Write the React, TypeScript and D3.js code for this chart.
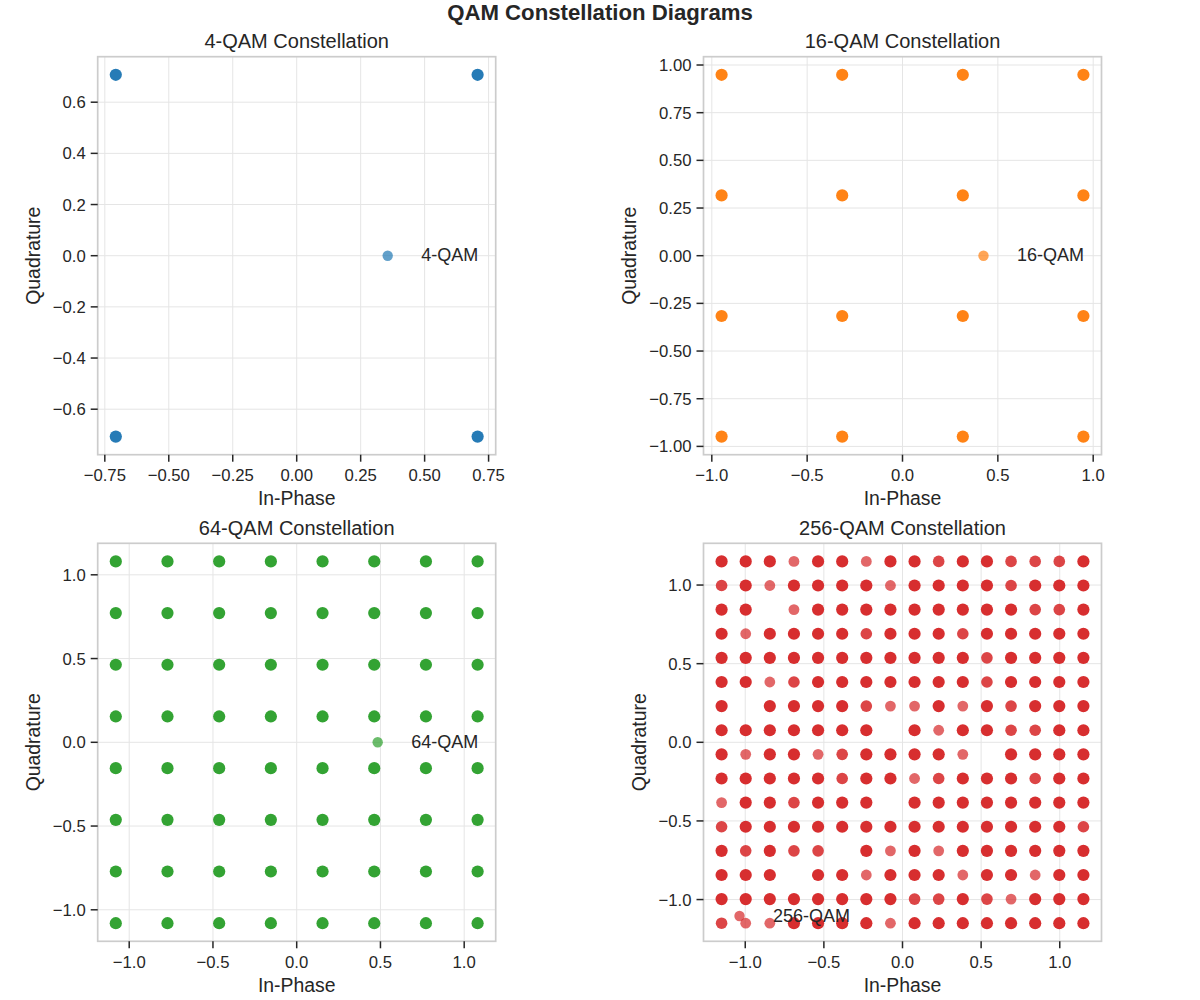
import React from 'react';
import * as d3 from 'd3';

// ---------- data ----------
const SUPTITLE = 'QAM Constellation Diagrams';
const NAMES = ['4-QAM', '16-QAM', '64-QAM', '256-QAM'];

const LEVELS_4 = [-0.7071, 0.7071];
const LEVELS_16 = [-0.9487, -0.3162, 0.3162, 0.9487];
const LEVELS_64 = [-1.0801, -0.7715, -0.4629, -0.1543, 0.1543, 0.4629, 0.7715, 1.0801];
const LEVELS_256 = [
  -1.1504, -0.997, -0.8437, -0.6903, -0.5369, -0.3835, -0.2301, -0.0767,
  0.0767, 0.2301, 0.3835, 0.5369, 0.6903, 0.8437, 0.997, 1.1504,
];

// hit density per constellation point, rows top->bottom, cols left->right
// 0 = no sample, 1 = single sample, 2 = few samples, 3 = many samples
const HITS_4 = ['33', '33'];
const HITS_16 = ['3333', '3333', '3333', '3333'];
const HITS_64 = ['33333333', '33333333', '33333333', '33333333', '33333333', '33333333', '33333333', '33333333'];
const HITS_256 = [
  '3331331332332223',
  '2313333133332333',
  '3301333333333223',
  '3133332333233333',
  '3333333333323333',
  '3312333333323333',
  '3033332113132333',
  '3333333031332233',
  '3133123333103333',
  '3333323312333233',
  '1332333033333333',
  '2333333333333332',
  '3232203131333333',
  '3330331333133133',
  '3333333322321333',
  '2113333133333333',
];

const X_TICKS_4 = [-0.75, -0.5, -0.25, 0, 0.25, 0.5, 0.75];
const Y_TICKS_4 = [-0.6, -0.4, -0.2, 0, 0.2, 0.4, 0.6];
const X_TICKS_16 = [-1, -0.5, 0, 0.5, 1];
const Y_TICKS_16 = [-1, -0.75, -0.5, -0.25, 0, 0.25, 0.5, 0.75, 1];
const X_TICKS_64 = [-1, -0.5, 0, 0.5, 1];
const Y_TICKS_64 = [-1, -0.5, 0, 0.5, 1];
const X_TICKS_256 = [-1, -0.5, 0, 0.5, 1];
const Y_TICKS_256 = [-1, -0.5, 0, 0.5, 1];

// ---------- styles ----------
const COLORS = ['#1f77b4', '#ff7f0e', '#2ca02c', '#d62728'];
const FONT = "'Liberation Sans', Arial, sans-serif";
const TEXT = '#262626';
const SIZE = 398;
const COL_X = [97.7, 703.5];
const ROW_Y = [56.7, 543.3];

const OPACITY: Record<string, number> = { '1': 0.7, '2': 0.86, '3': 0.97 };
const RADIUS: Record<string, number> = { '1': 5.4, '2': 5.8, '3': 6.1 };

let canvasCtx: CanvasRenderingContext2D | null = null;
function textWidth(s: string, size: number) {
  if (!canvasCtx) canvasCtx = document.createElement('canvas').getContext('2d');
  if (!canvasCtx) return s.length * size * 0.55;
  canvasCtx.font = `${size}px ${FONT}`;
  return canvasCtx.measureText(s).width;
}

const fmt = (spec: string) => (v: number) => d3.format(spec)(v).replace('-', '\u2212');

type PanelProps = {
  idx: number;
  levels: number[];
  hits: string[];
  xTicks: number[];
  yTicks: number[];
  xFmt: string;
  yFmt: string;
  legendLoc: 'center right' | 'lower left';
  ylabelOffset: number;
};

function Panel({ idx, levels, hits, xTicks, yTicks, xFmt, yFmt, legendLoc, ylabelOffset }: PanelProps) {
  const x0 = COL_X[idx % 2];
  const y0 = ROW_Y[Math.floor(idx / 2)];
  const color = COLORS[idx];
  const name = NAMES[idx];
  const [lo, hi] = d3.extent(levels) as [number, number];
  const pad = (hi - lo) * 0.05;
  const x = d3.scaleLinear().domain([lo - pad, hi + pad]).range([x0, x0 + SIZE]);
  const y = d3.scaleLinear().domain([lo - pad, hi + pad]).range([y0 + SIZE, y0]);
  const n = levels.length;

  const pts: { i: number; q: number; h: string }[] = [];
  hits.forEach((row, r) => {
    row.split('').forEach((h, c) => {
      if (h !== '0') pts.push({ i: levels[c], q: levels[n - 1 - r], h });
    });
  });

  const fx = fmt(xFmt);
  const fy = fmt(yFmt);

  // legend
  const lw = textWidth(name, 18);
  let textX: number, markerY: number;
  if (legendLoc === 'center right') {
    textX = x0 + SIZE - 17.5 - lw;
    markerY = y0 + SIZE / 2;
  } else {
    textX = x0 + 69.5;
    markerY = y0 + SIZE - 25.3;
  }
  const markerX = textX - 33.5;

  const clipId = `clip${idx}`;
  return (
    <g>
      <defs>
        <clipPath id={clipId}>
          <rect x={x0} y={y0} width={SIZE} height={SIZE} />
        </clipPath>
      </defs>
      {/* grid */}
      <g stroke="#e5e5e5" strokeWidth={1}>
        {xTicks.map((t) => (
          <line key={'gx' + t} x1={x(t)} x2={x(t)} y1={y0} y2={y0 + SIZE} />
        ))}
        {yTicks.map((t) => (
          <line key={'gy' + t} x1={x0} x2={x0 + SIZE} y1={y(t)} y2={y(t)} />
        ))}
      </g>
      {/* points */}
      <g clipPath={`url(#${clipId})`}>
        {pts.map((p, k) => (
          <circle key={k} cx={x(p.i)} cy={y(p.q)} r={RADIUS[p.h]} fill={color} fillOpacity={OPACITY[p.h]} />
        ))}
      </g>
      {/* spines */}
      <rect x={x0} y={y0} width={SIZE} height={SIZE} fill="none" stroke="#cccccc" strokeWidth={1.7} />
      {/* x ticks */}
      <g>
        {xTicks.map((t) => (
          <g key={'tx' + t}>
            <line x1={x(t)} x2={x(t)} y1={y0 + SIZE} y2={y0 + SIZE + 7} stroke={TEXT} strokeWidth={1.5} />
            <text x={x(t)} y={y0 + SIZE + 26.5} textAnchor="middle" fontSize={16.7} fill={TEXT} fontFamily={FONT}>
              {fx(t)}
            </text>
          </g>
        ))}
      </g>
      {/* y ticks */}
      <g>
        {yTicks.map((t) => (
          <g key={'ty' + t}>
            <line x1={x0 - 7} x2={x0} y1={y(t)} y2={y(t)} stroke={TEXT} strokeWidth={1.5} />
            <text x={x0 - 12} y={y(t) + 6} textAnchor="end" fontSize={16.7} fill={TEXT} fontFamily={FONT}>
              {fy(t)}
            </text>
          </g>
        ))}
      </g>
      {/* labels */}
      <text x={x0 + SIZE / 2} y={y0 + SIZE + 50.5} textAnchor="middle" fontSize={19.4} fill={TEXT} fontFamily={FONT}>
        In-Phase
      </text>
      <text
        transform={`translate(${x0 - ylabelOffset},${y0 + SIZE / 2}) rotate(-90)`}
        textAnchor="middle"
        fontSize={19.4}
        fill={TEXT}
        fontFamily={FONT}
      >
        Quadrature
      </text>
      <text x={x0 + SIZE / 2} y={y0 - 8.3} textAnchor="middle" fontSize={20} fill={TEXT} fontFamily={FONT}>
        {name} Constellation
      </text>
      {/* legend */}
      <circle cx={markerX} cy={markerY} r={5.2} fill={color} fillOpacity={0.7} />
      <text x={textX} y={markerY + 5.5} fontSize={18} fill={TEXT} fontFamily={FONT}>
        {name}
      </text>
    </g>
  );
}

export default function App() {
  return (
    <svg
      width={1200}
      height={1000}
      style={{ position: 'absolute', left: 0, top: 0, display: 'block', background: '#fff' }}
      fontFamily={FONT}
    >
      <rect x={0} y={0} width={1200} height={1000} fill="#fff" />
      <text x={600} y={20} textAnchor="middle" fontSize={22.2} fontWeight="bold" fill={TEXT} fontFamily={FONT}>
        {SUPTITLE}
      </text>
      <Panel idx={0} levels={LEVELS_4} hits={HITS_4} xTicks={X_TICKS_4} yTicks={Y_TICKS_4} xFmt=".2f" yFmt=".1f" legendLoc="center right" ylabelOffset={57.7} />
      <Panel idx={1} levels={LEVELS_16} hits={HITS_16} xTicks={X_TICKS_16} yTicks={Y_TICKS_16} xFmt=".1f" yFmt=".2f" legendLoc="center right" ylabelOffset={67.5} />
      <Panel idx={2} levels={LEVELS_64} hits={HITS_64} xTicks={X_TICKS_64} yTicks={Y_TICKS_64} xFmt=".1f" yFmt=".1f" legendLoc="center right" ylabelOffset={57.7} />
      <Panel idx={3} levels={LEVELS_256} hits={HITS_256} xTicks={X_TICKS_256} yTicks={Y_TICKS_256} xFmt=".1f" yFmt=".1f" legendLoc="lower left" ylabelOffset={57.5} />
    </svg>
  );
}
